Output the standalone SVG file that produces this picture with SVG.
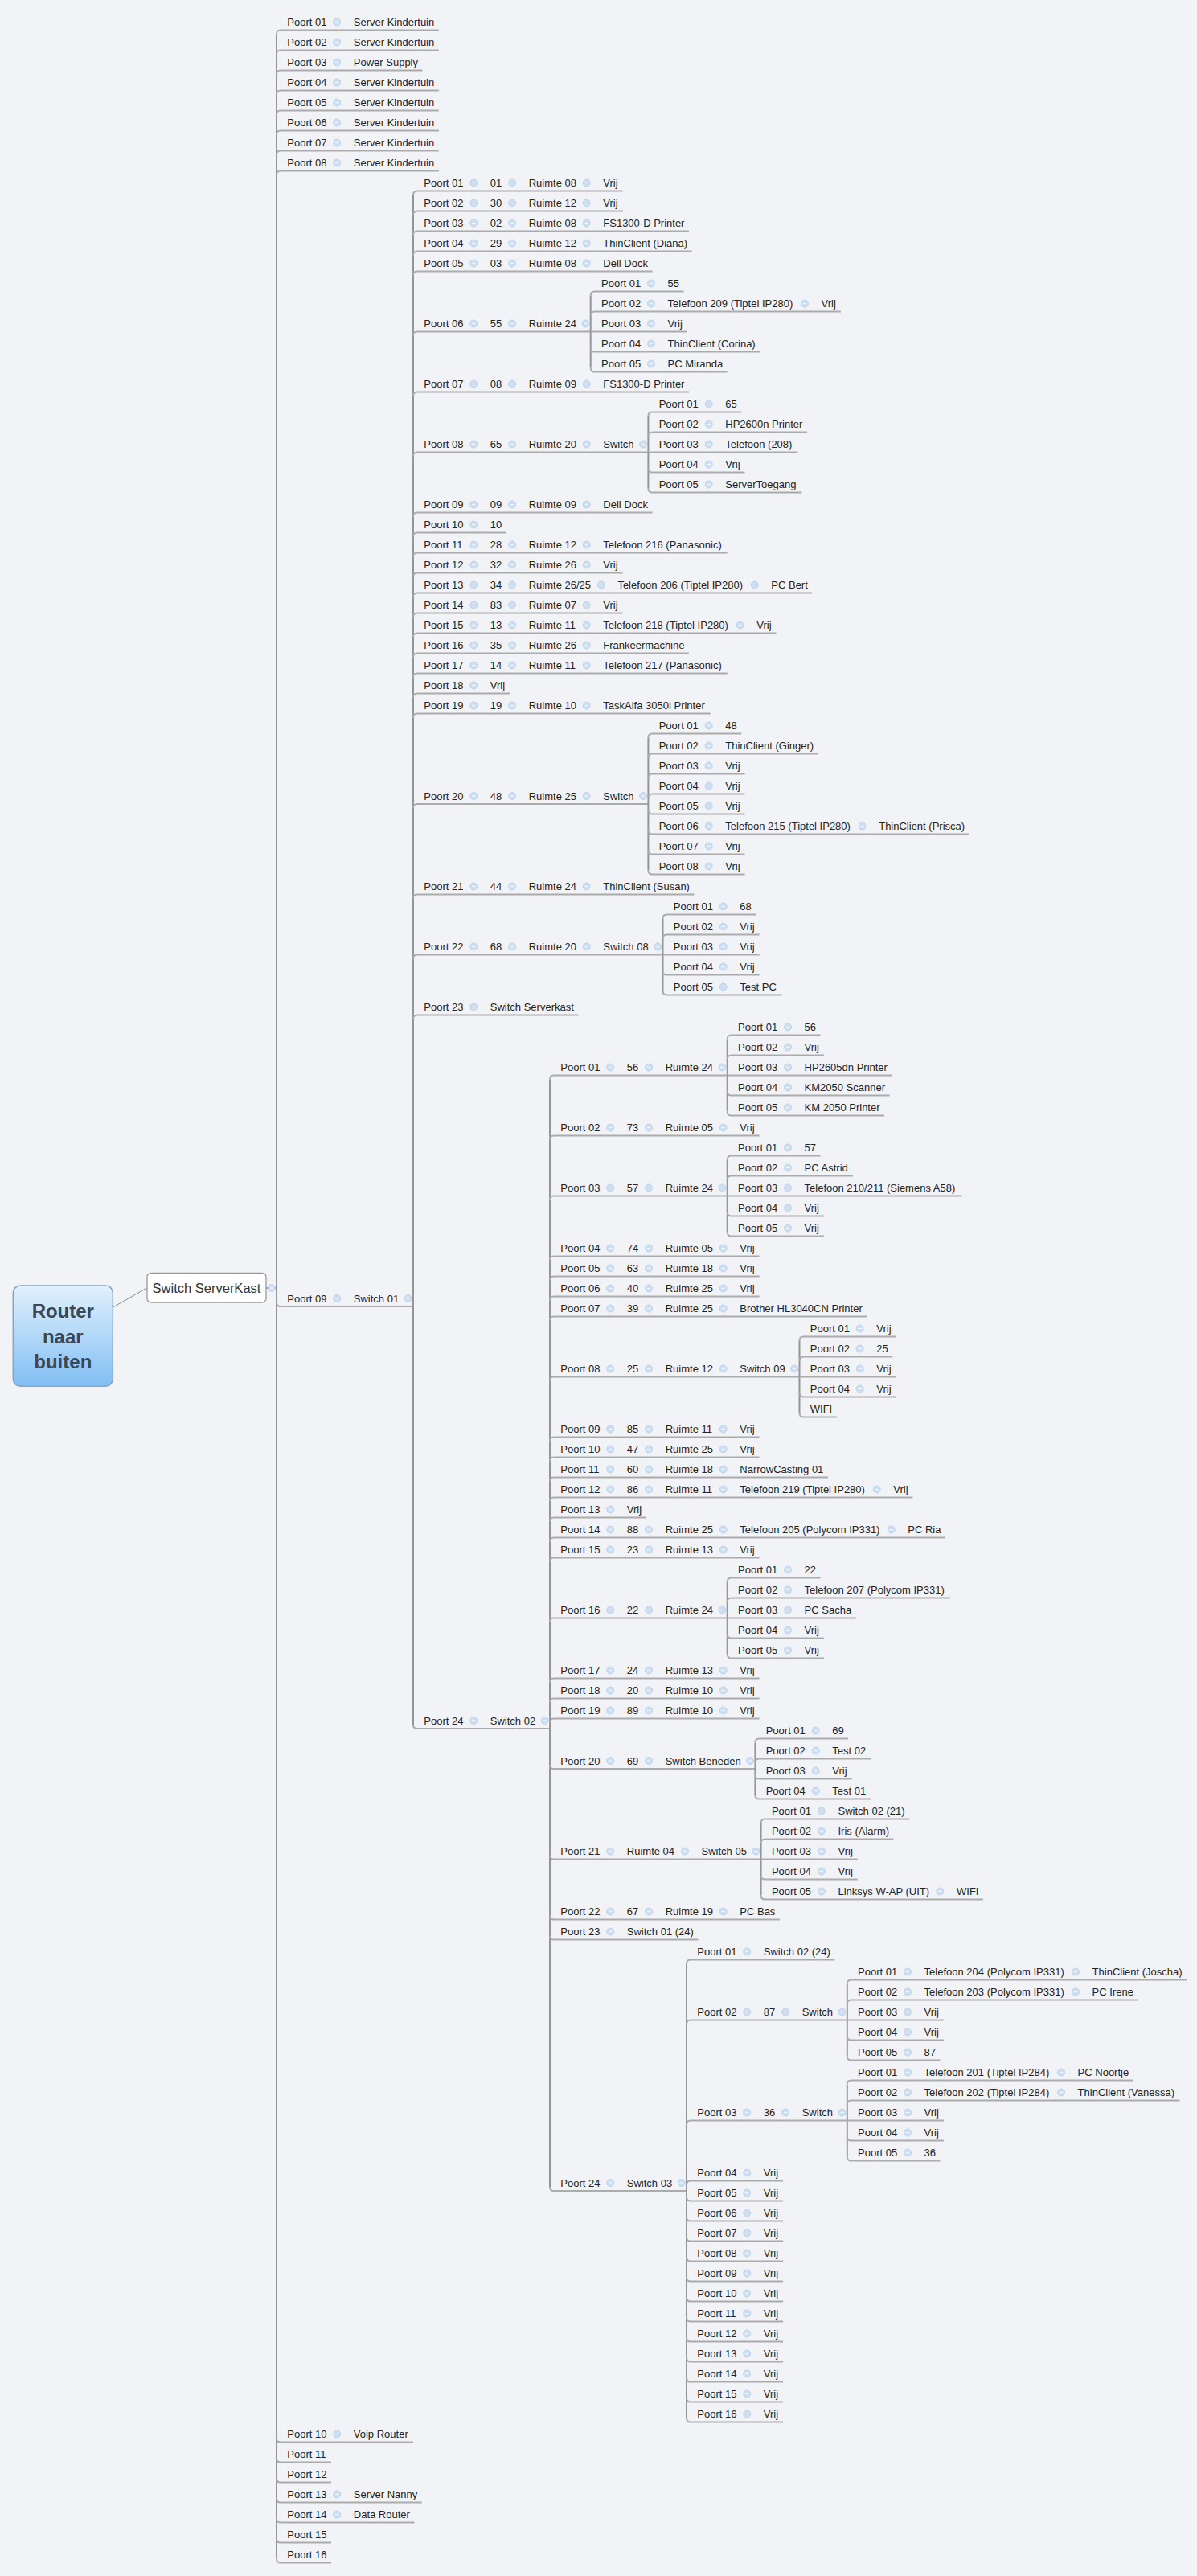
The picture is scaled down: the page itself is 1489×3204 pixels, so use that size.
<svg xmlns="http://www.w3.org/2000/svg" xmlns:xlink="http://www.w3.org/1999/xlink" width="1489" height="3204" viewBox="0 0 1489 3204">
<style>
text{font-family:"Liberation Sans",Arial,sans-serif;font-size:13px;fill:#222}
.u{fill:none;stroke:#ababab;stroke-width:2}
.v{fill:none;stroke:#959595;stroke-width:2}
.rt{font-weight:bold;font-size:24px;fill:#3c4753;text-anchor:middle}
.sk{font-size:16.5px;fill:#333;text-anchor:middle}
</style>
<defs>
<linearGradient id="g" x1="0" y1="0" x2="0" y2="1"><stop offset="0" stop-color="#e2f1fd"/><stop offset="1" stop-color="#80bef3"/></linearGradient>
<g id="c"><circle r="4.5" fill="#cddff3" stroke="#b6cde8" stroke-width="0.8"/><path d="M-2.2,0H2.2" stroke="#f4f8fc" stroke-width="1.1"/></g>
</defs>
<rect width="1489" height="3204" fill="#f2f3f7"/>
<g id="connectors">
<path d="M140.3,1626.2L183,1601.7" stroke="#8a8a8a" stroke-width="1" fill="none"/>
<path class="v" d="M331,1602H344"/>
<path class="v" d="M344,42.5V3182.5"/>
<path class="u" d="M344,42.5Q344,37.5 349,37.5H545.8"/>
<path class="u" d="M344,67.5Q344,62.5 349,62.5H545.8"/>
<path class="u" d="M344,92.5Q344,87.5 349,87.5H525.5"/>
<path class="u" d="M344,117.5Q344,112.5 349,112.5H545.8"/>
<path class="u" d="M344,142.5Q344,137.5 349,137.5H545.8"/>
<path class="u" d="M344,167.5Q344,162.5 349,162.5H545.8"/>
<path class="u" d="M344,192.5Q344,187.5 349,187.5H545.8"/>
<path class="u" d="M344,217.5Q344,212.5 349,212.5H545.8"/>
<path class="u" d="M344,1620Q344,1625 349,1625H514"/>
<path class="u" d="M344,3032.5Q344,3037.5 349,3037.5H514"/>
<path class="u" d="M344,3057.5Q344,3062.5 349,3062.5H412"/>
<path class="u" d="M344,3082.5Q344,3087.5 349,3087.5H412"/>
<path class="u" d="M344,3107.5Q344,3112.5 349,3112.5H524.8"/>
<path class="u" d="M344,3132.5Q344,3137.5 349,3137.5H515.4"/>
<path class="u" d="M344,3157.5Q344,3162.5 349,3162.5H412"/>
<path class="u" d="M344,3182.5Q344,3187.5 349,3187.5H412"/>
<path class="v" d="M514,242.5V2145"/>
<path class="u" d="M514,242.5Q514,237.5 519,237.5H774.6"/>
<path class="u" d="M514,267.5Q514,262.5 519,262.5H774.6"/>
<path class="u" d="M514,292.5Q514,287.5 519,287.5H857"/>
<path class="u" d="M514,317.5Q514,312.5 519,312.5H860.6"/>
<path class="u" d="M514,342.5Q514,337.5 519,337.5H811.5"/>
<path class="u" d="M514,417.5Q514,412.5 519,412.5H734.7"/>
<path class="u" d="M514,492.5Q514,487.5 519,487.5H857"/>
<path class="u" d="M514,567.5Q514,562.5 519,562.5H806.4"/>
<path class="u" d="M514,642.5Q514,637.5 519,637.5H811.5"/>
<path class="u" d="M514,667.5Q514,662.5 519,662.5H629.8"/>
<path class="u" d="M514,692.5Q514,687.5 519,687.5H904.7"/>
<path class="u" d="M514,717.5Q514,712.5 519,712.5H774.6"/>
<path class="u" d="M514,742.5Q514,737.5 519,737.5H1010.3"/>
<path class="u" d="M514,767.5Q514,762.5 519,762.5H774.6"/>
<path class="u" d="M514,792.5Q514,787.5 519,787.5H965.5"/>
<path class="u" d="M514,817.5Q514,812.5 519,812.5H857"/>
<path class="u" d="M514,842.5Q514,837.5 519,837.5H904.7"/>
<path class="u" d="M514,867.5Q514,862.5 519,862.5H634.1"/>
<path class="u" d="M514,892.5Q514,887.5 519,887.5H883.7"/>
<path class="u" d="M514,1005Q514,1000 519,1000H806.4"/>
<path class="u" d="M514,1117.5Q514,1112.5 519,1112.5H863.5"/>
<path class="u" d="M514,1192.5Q514,1187.5 519,1187.5H824.5"/>
<path class="u" d="M514,1267.5Q514,1262.5 519,1262.5H719.4"/>
<path class="u" d="M514,2145Q514,2150 519,2150H684"/>
<path class="v" d="M734.7,367.5V457.5"/>
<path class="u" d="M734.7,367.5Q734.7,362.5 739.7,362.5H850.5"/>
<path class="u" d="M734.7,392.5Q734.7,387.5 739.7,387.5H1045.8"/>
<path class="u" d="M734.7,412.5H854.9"/>
<path class="u" d="M734.7,432.5Q734.7,437.5 739.7,437.5H945.2"/>
<path class="u" d="M734.7,457.5Q734.7,462.5 739.7,462.5H904.7"/>
<path class="v" d="M806.4,517.5V607.5"/>
<path class="u" d="M806.4,517.5Q806.4,512.5 811.4,512.5H922.2"/>
<path class="u" d="M806.4,542.5Q806.4,537.5 811.4,537.5H1003.9"/>
<path class="u" d="M806.4,562.5H992.3"/>
<path class="u" d="M806.4,582.5Q806.4,587.5 811.4,587.5H926.5"/>
<path class="u" d="M806.4,607.5Q806.4,612.5 811.4,612.5H997.4"/>
<path class="v" d="M806.4,917.5V1082.5"/>
<path class="u" d="M806.4,917.5Q806.4,912.5 811.4,912.5H922.2"/>
<path class="u" d="M806.4,942.5Q806.4,937.5 811.4,937.5H1017.6"/>
<path class="u" d="M806.4,967.5Q806.4,962.5 811.4,962.5H926.5"/>
<path class="u" d="M806.4,992.5Q806.4,987.5 811.4,987.5H926.5"/>
<path class="u" d="M806.4,1007.5Q806.4,1012.5 811.4,1012.5H926.5"/>
<path class="u" d="M806.4,1032.5Q806.4,1037.5 811.4,1037.5H1205.6"/>
<path class="u" d="M806.4,1057.5Q806.4,1062.5 811.4,1062.5H926.5"/>
<path class="u" d="M806.4,1082.5Q806.4,1087.5 811.4,1087.5H926.5"/>
<path class="v" d="M824.5,1142.5V1232.5"/>
<path class="u" d="M824.5,1142.5Q824.5,1137.5 829.5,1137.5H940.3"/>
<path class="u" d="M824.5,1167.5Q824.5,1162.5 829.5,1162.5H944.6"/>
<path class="u" d="M824.5,1187.5H944.6"/>
<path class="u" d="M824.5,1207.5Q824.5,1212.5 829.5,1212.5H944.6"/>
<path class="u" d="M824.5,1232.5Q824.5,1237.5 829.5,1237.5H972.8"/>
<path class="v" d="M684,1342.5V2720"/>
<path class="u" d="M684,1342.5Q684,1337.5 689,1337.5H904.7"/>
<path class="u" d="M684,1417.5Q684,1412.5 689,1412.5H944.6"/>
<path class="u" d="M684,1492.5Q684,1487.5 689,1487.5H904.7"/>
<path class="u" d="M684,1567.5Q684,1562.5 689,1562.5H944.6"/>
<path class="u" d="M684,1592.5Q684,1587.5 689,1587.5H944.6"/>
<path class="u" d="M684,1617.5Q684,1612.5 689,1612.5H944.6"/>
<path class="u" d="M684,1642.5Q684,1637.5 689,1637.5H1078.3"/>
<path class="u" d="M684,1717.5Q684,1712.5 689,1712.5H994.5"/>
<path class="u" d="M684,1792.5Q684,1787.5 689,1787.5H944.6"/>
<path class="u" d="M684,1817.5Q684,1812.5 689,1812.5H944.6"/>
<path class="u" d="M684,1842.5Q684,1837.5 689,1837.5H1029.9"/>
<path class="u" d="M684,1867.5Q684,1862.5 689,1862.5H1135.5"/>
<path class="u" d="M684,1892.5Q684,1887.5 689,1887.5H804.1"/>
<path class="u" d="M684,1917.5Q684,1912.5 689,1912.5H1176"/>
<path class="u" d="M684,1942.5Q684,1937.5 689,1937.5H944.6"/>
<path class="u" d="M684,2017.5Q684,2012.5 689,2012.5H904.7"/>
<path class="u" d="M684,2092.5Q684,2087.5 689,2087.5H944.6"/>
<path class="u" d="M684,2117.5Q684,2112.5 689,2112.5H944.6"/>
<path class="u" d="M684,2142.5Q684,2137.5 689,2137.5H944.6"/>
<path class="u" d="M684,2195Q684,2200 689,2200H939.4"/>
<path class="u" d="M684,2307.5Q684,2312.5 689,2312.5H946.6"/>
<path class="u" d="M684,2382.5Q684,2387.5 689,2387.5H969.9"/>
<path class="u" d="M684,2407.5Q684,2412.5 689,2412.5H868.4"/>
<path class="u" d="M684,2720Q684,2725 689,2725H854"/>
<path class="v" d="M904.7,1292.5V1382.5"/>
<path class="u" d="M904.7,1292.5Q904.7,1287.5 909.7,1287.5H1020.5"/>
<path class="u" d="M904.7,1317.5Q904.7,1312.5 909.7,1312.5H1024.9"/>
<path class="u" d="M904.7,1337.5H1109.4"/>
<path class="u" d="M904.7,1357.5Q904.7,1362.5 909.7,1362.5H1106.5"/>
<path class="u" d="M904.7,1382.5Q904.7,1387.5 909.7,1387.5H1100"/>
<path class="v" d="M904.7,1442.5V1532.5"/>
<path class="u" d="M904.7,1442.5Q904.7,1437.5 909.7,1437.5H1020.5"/>
<path class="u" d="M904.7,1467.5Q904.7,1462.5 909.7,1462.5H1061"/>
<path class="u" d="M904.7,1487.5H1196.8"/>
<path class="u" d="M904.7,1507.5Q904.7,1512.5 909.7,1512.5H1024.9"/>
<path class="u" d="M904.7,1532.5Q904.7,1537.5 909.7,1537.5H1024.9"/>
<path class="v" d="M994.5,1667.5V1757.5"/>
<path class="u" d="M994.5,1667.5Q994.5,1662.5 999.5,1662.5H1114.6"/>
<path class="u" d="M994.5,1692.5Q994.5,1687.5 999.5,1687.5H1110.3"/>
<path class="u" d="M994.5,1712.5H1114.6"/>
<path class="u" d="M994.5,1732.5Q994.5,1737.5 999.5,1737.5H1114.6"/>
<path class="u" d="M994.5,1757.5Q994.5,1762.5 999.5,1762.5H1040.7"/>
<path class="v" d="M904.7,1967.5V2057.5"/>
<path class="u" d="M904.7,1967.5Q904.7,1962.5 909.7,1962.5H1020.5"/>
<path class="u" d="M904.7,1992.5Q904.7,1987.5 909.7,1987.5H1181.7"/>
<path class="u" d="M904.7,2012.5H1064.6"/>
<path class="u" d="M904.7,2032.5Q904.7,2037.5 909.7,2037.5H1024.9"/>
<path class="u" d="M904.7,2057.5Q904.7,2062.5 909.7,2062.5H1024.9"/>
<path class="v" d="M939.4,2167.5V2232.5"/>
<path class="u" d="M939.4,2167.5Q939.4,2162.5 944.4,2162.5H1055.2"/>
<path class="u" d="M939.4,2192.5Q939.4,2187.5 944.4,2187.5H1084.1"/>
<path class="u" d="M939.4,2207.5Q939.4,2212.5 944.4,2212.5H1059.6"/>
<path class="u" d="M939.4,2232.5Q939.4,2237.5 944.4,2237.5H1084.1"/>
<path class="v" d="M946.6,2267.5V2357.5"/>
<path class="u" d="M946.6,2267.5Q946.6,2262.5 951.6,2262.5H1131.1"/>
<path class="u" d="M946.6,2292.5Q946.6,2287.5 951.6,2287.5H1111.5"/>
<path class="u" d="M946.6,2312.5H1066.8"/>
<path class="u" d="M946.6,2332.5Q946.6,2337.5 951.6,2337.5H1066.8"/>
<path class="u" d="M946.6,2357.5Q946.6,2362.5 951.6,2362.5H1222.9"/>
<path class="v" d="M854,2442.5V3007.5"/>
<path class="u" d="M854,2442.5Q854,2437.5 859,2437.5H1038.4"/>
<path class="u" d="M854,2517.5Q854,2512.5 859,2512.5H1053.8"/>
<path class="u" d="M854,2642.5Q854,2637.5 859,2637.5H1053.8"/>
<path class="u" d="M854,2717.5Q854,2712.5 859,2712.5H974.1"/>
<path class="u" d="M854,2732.5Q854,2737.5 859,2737.5H974.1"/>
<path class="u" d="M854,2757.5Q854,2762.5 859,2762.5H974.1"/>
<path class="u" d="M854,2782.5Q854,2787.5 859,2787.5H974.1"/>
<path class="u" d="M854,2807.5Q854,2812.5 859,2812.5H974.1"/>
<path class="u" d="M854,2832.5Q854,2837.5 859,2837.5H974.1"/>
<path class="u" d="M854,2857.5Q854,2862.5 859,2862.5H974.1"/>
<path class="u" d="M854,2882.5Q854,2887.5 859,2887.5H974.1"/>
<path class="u" d="M854,2907.5Q854,2912.5 859,2912.5H974.1"/>
<path class="u" d="M854,2932.5Q854,2937.5 859,2937.5H974.1"/>
<path class="u" d="M854,2957.5Q854,2962.5 859,2962.5H974.1"/>
<path class="u" d="M854,2982.5Q854,2987.5 859,2987.5H974.1"/>
<path class="u" d="M854,3007.5Q854,3012.5 859,3012.5H974.1"/>
<path class="v" d="M1053.8,2467.5V2557.5"/>
<path class="u" d="M1053.8,2467.5Q1053.8,2462.5 1058.8,2462.5H1476.1"/>
<path class="u" d="M1053.8,2492.5Q1053.8,2487.5 1058.8,2487.5H1415.4"/>
<path class="u" d="M1053.8,2512.5H1173.9"/>
<path class="u" d="M1053.8,2532.5Q1053.8,2537.5 1058.8,2537.5H1173.9"/>
<path class="u" d="M1053.8,2557.5Q1053.8,2562.5 1058.8,2562.5H1169.6"/>
<path class="v" d="M1053.8,2592.5V2682.5"/>
<path class="u" d="M1053.8,2592.5Q1053.8,2587.5 1058.8,2587.5H1409.6"/>
<path class="u" d="M1053.8,2617.5Q1053.8,2612.5 1058.8,2612.5H1467.4"/>
<path class="u" d="M1053.8,2637.5H1173.9"/>
<path class="u" d="M1053.8,2657.5Q1053.8,2662.5 1058.8,2662.5H1173.9"/>
<path class="u" d="M1053.8,2682.5Q1053.8,2687.5 1058.8,2687.5H1169.6"/>
</g>
<g id="root"><rect x="16.3" y="1599" width="124" height="125.3" rx="9" fill="url(#g)" stroke="#8ba3bd" stroke-width="1.5"/><text class="rt" x="78.3" y="1639">Router</text><text class="rt" x="78.3" y="1670.5">naar</text><text class="rt" x="78.3" y="1702">buiten</text></g>
<g id="sk"><rect x="183" y="1583.3" width="148" height="36.7" rx="5" fill="#fff" stroke="#9a9a9a" stroke-width="1.3"/><text class="sk" x="257" y="1608">Switch ServerKast</text><use href="#c" x="337.7" y="1602"/></g>
<g id="r0a"><text x="357.3" y="32">Poort 01</text><use href="#c" x="419.2" y="27.5"/></g><g id="r0b"><text x="439.8" y="32">Server Kindertuin</text></g>
<g id="r1a"><text x="357.3" y="57">Poort 02</text><use href="#c" x="419.2" y="52.5"/></g><g id="r1b"><text x="439.8" y="57">Server Kindertuin</text></g>
<g id="r2a"><text x="357.3" y="82">Poort 03</text><use href="#c" x="419.2" y="77.5"/></g><g id="r2b"><text x="439.8" y="82">Power Supply</text></g>
<g id="r3a"><text x="357.3" y="107">Poort 04</text><use href="#c" x="419.2" y="102.5"/></g><g id="r3b"><text x="439.8" y="107">Server Kindertuin</text></g>
<g id="r4a"><text x="357.3" y="132">Poort 05</text><use href="#c" x="419.2" y="127.5"/></g><g id="r4b"><text x="439.8" y="132">Server Kindertuin</text></g>
<g id="r5a"><text x="357.3" y="157">Poort 06</text><use href="#c" x="419.2" y="152.5"/></g><g id="r5b"><text x="439.8" y="157">Server Kindertuin</text></g>
<g id="r6a"><text x="357.3" y="182">Poort 07</text><use href="#c" x="419.2" y="177.5"/></g><g id="r6b"><text x="439.8" y="182">Server Kindertuin</text></g>
<g id="r7a"><text x="357.3" y="207">Poort 08</text><use href="#c" x="419.2" y="202.5"/></g><g id="r7b"><text x="439.8" y="207">Server Kindertuin</text></g>
<g id="p09"><text x="357.3" y="1619.5">Poort 09</text><use href="#c" x="419.2" y="1615"/></g><g id="sw01"><text x="439.8" y="1619.5">Switch 01</text><use href="#c" x="507.7" y="1615"/></g>
<g id="r120a"><text x="357.3" y="3032">Poort 10</text><use href="#c" x="419.2" y="3027.5"/></g><g id="r120b"><text x="439.8" y="3032">Voip Router</text></g>
<g id="r121a"><text x="357.3" y="3057">Poort 11</text></g>
<g id="r122a"><text x="357.3" y="3082">Poort 12</text></g>
<g id="r123a"><text x="357.3" y="3107">Poort 13</text><use href="#c" x="419.2" y="3102.5"/></g><g id="r123b"><text x="439.8" y="3107">Server Nanny</text></g>
<g id="r124a"><text x="357.3" y="3132">Poort 14</text><use href="#c" x="419.2" y="3127.5"/></g><g id="r124b"><text x="439.8" y="3132">Data Router</text></g>
<g id="r125a"><text x="357.3" y="3157">Poort 15</text></g>
<g id="r126a"><text x="357.3" y="3182">Poort 16</text></g>
<g id="r8a"><text x="527.3" y="232">Poort 01</text><use href="#c" x="589.2" y="227.5"/></g><g id="r8b"><text x="609.8" y="232">01</text><use href="#c" x="637.1" y="227.5"/></g><g id="r8c"><text x="657.7" y="232">Ruimte 08</text><use href="#c" x="729.7" y="227.5"/></g><g id="r8d"><text x="750.3" y="232">Vrij</text></g>
<g id="r9a"><text x="527.3" y="257">Poort 02</text><use href="#c" x="589.2" y="252.5"/></g><g id="r9b"><text x="609.8" y="257">30</text><use href="#c" x="637.1" y="252.5"/></g><g id="r9c"><text x="657.7" y="257">Ruimte 12</text><use href="#c" x="729.7" y="252.5"/></g><g id="r9d"><text x="750.3" y="257">Vrij</text></g>
<g id="r10a"><text x="527.3" y="282">Poort 03</text><use href="#c" x="589.2" y="277.5"/></g><g id="r10b"><text x="609.8" y="282">02</text><use href="#c" x="637.1" y="277.5"/></g><g id="r10c"><text x="657.7" y="282">Ruimte 08</text><use href="#c" x="729.7" y="277.5"/></g><g id="r10d"><text x="750.3" y="282">FS1300-D Printer</text></g>
<g id="r11a"><text x="527.3" y="307">Poort 04</text><use href="#c" x="589.2" y="302.5"/></g><g id="r11b"><text x="609.8" y="307">29</text><use href="#c" x="637.1" y="302.5"/></g><g id="r11c"><text x="657.7" y="307">Ruimte 12</text><use href="#c" x="729.7" y="302.5"/></g><g id="r11d"><text x="750.3" y="307">ThinClient (Diana)</text></g>
<g id="r12a"><text x="527.3" y="332">Poort 05</text><use href="#c" x="589.2" y="327.5"/></g><g id="r12b"><text x="609.8" y="332">03</text><use href="#c" x="637.1" y="327.5"/></g><g id="r12c"><text x="657.7" y="332">Ruimte 08</text><use href="#c" x="729.7" y="327.5"/></g><g id="r12d"><text x="750.3" y="332">Dell Dock</text></g>
<g id="r15a"><text x="527.3" y="407">Poort 06</text><use href="#c" x="589.2" y="402.5"/></g><g id="r15b"><text x="609.8" y="407">55</text><use href="#c" x="637.1" y="402.5"/></g><g id="r15c"><text x="657.7" y="407">Ruimte 24</text><use href="#c" x="728.4" y="402.5"/></g>
<g id="r13x"><text x="748" y="357">Poort 01</text><use href="#c" x="810" y="352.5"/></g><g id="r13y"><text x="830.6" y="357">55</text></g>
<g id="r14x"><text x="748" y="382">Poort 02</text><use href="#c" x="810" y="377.5"/></g><g id="r14y"><text x="830.6" y="382">Telefoon 209 (Tiptel IP280)</text><use href="#c" x="1000.9" y="377.5"/></g><g id="r14z"><text x="1021.5" y="382">Vrij</text></g>
<g id="r15x"><text x="748" y="407">Poort 03</text><use href="#c" x="810" y="402.5"/></g><g id="r15y"><text x="830.6" y="407">Vrij</text></g>
<g id="r16x"><text x="748" y="432">Poort 04</text><use href="#c" x="810" y="427.5"/></g><g id="r16y"><text x="830.6" y="432">ThinClient (Corina)</text></g>
<g id="r17x"><text x="748" y="457">Poort 05</text><use href="#c" x="810" y="452.5"/></g><g id="r17y"><text x="830.6" y="457">PC Miranda</text></g>
<g id="r18a"><text x="527.3" y="482">Poort 07</text><use href="#c" x="589.2" y="477.5"/></g><g id="r18b"><text x="609.8" y="482">08</text><use href="#c" x="637.1" y="477.5"/></g><g id="r18c"><text x="657.7" y="482">Ruimte 09</text><use href="#c" x="729.7" y="477.5"/></g><g id="r18d"><text x="750.3" y="482">FS1300-D Printer</text></g>
<g id="r21a"><text x="527.3" y="557">Poort 08</text><use href="#c" x="589.2" y="552.5"/></g><g id="r21b"><text x="609.8" y="557">65</text><use href="#c" x="637.1" y="552.5"/></g><g id="r21c"><text x="657.7" y="557">Ruimte 20</text><use href="#c" x="729.7" y="552.5"/></g><g id="r21d"><text x="750.3" y="557">Switch</text><use href="#c" x="800.1" y="552.5"/></g>
<g id="r19x"><text x="819.7" y="507">Poort 01</text><use href="#c" x="881.7" y="502.5"/></g><g id="r19y"><text x="902.3" y="507">65</text></g>
<g id="r20x"><text x="819.7" y="532">Poort 02</text><use href="#c" x="881.7" y="527.5"/></g><g id="r20y"><text x="902.3" y="532">HP2600n Printer</text></g>
<g id="r21x"><text x="819.7" y="557">Poort 03</text><use href="#c" x="881.7" y="552.5"/></g><g id="r21y"><text x="902.3" y="557">Telefoon (208)</text></g>
<g id="r22x"><text x="819.7" y="582">Poort 04</text><use href="#c" x="881.7" y="577.5"/></g><g id="r22y"><text x="902.3" y="582">Vrij</text></g>
<g id="r23x"><text x="819.7" y="607">Poort 05</text><use href="#c" x="881.7" y="602.5"/></g><g id="r23y"><text x="902.3" y="607">ServerToegang</text></g>
<g id="r24a"><text x="527.3" y="632">Poort 09</text><use href="#c" x="589.2" y="627.5"/></g><g id="r24b"><text x="609.8" y="632">09</text><use href="#c" x="637.1" y="627.5"/></g><g id="r24c"><text x="657.7" y="632">Ruimte 09</text><use href="#c" x="729.7" y="627.5"/></g><g id="r24d"><text x="750.3" y="632">Dell Dock</text></g>
<g id="r25a"><text x="527.3" y="657">Poort 10</text><use href="#c" x="589.2" y="652.5"/></g><g id="r25b"><text x="609.8" y="657">10</text></g>
<g id="r26a"><text x="527.3" y="682">Poort 11</text><use href="#c" x="589.2" y="677.5"/></g><g id="r26b"><text x="609.8" y="682">28</text><use href="#c" x="637.1" y="677.5"/></g><g id="r26c"><text x="657.7" y="682">Ruimte 12</text><use href="#c" x="729.7" y="677.5"/></g><g id="r26d"><text x="750.3" y="682">Telefoon 216 (Panasonic)</text></g>
<g id="r27a"><text x="527.3" y="707">Poort 12</text><use href="#c" x="589.2" y="702.5"/></g><g id="r27b"><text x="609.8" y="707">32</text><use href="#c" x="637.1" y="702.5"/></g><g id="r27c"><text x="657.7" y="707">Ruimte 26</text><use href="#c" x="729.7" y="702.5"/></g><g id="r27d"><text x="750.3" y="707">Vrij</text></g>
<g id="r28a"><text x="527.3" y="732">Poort 13</text><use href="#c" x="589.2" y="727.5"/></g><g id="r28b"><text x="609.8" y="732">34</text><use href="#c" x="637.1" y="727.5"/></g><g id="r28c"><text x="657.7" y="732">Ruimte 26/25</text><use href="#c" x="747.8" y="727.5"/></g><g id="r28d"><text x="768.4" y="732">Telefoon 206 (Tiptel IP280)</text><use href="#c" x="938.7" y="727.5"/></g><g id="r28e"><text x="959.3" y="732">PC Bert</text></g>
<g id="r29a"><text x="527.3" y="757">Poort 14</text><use href="#c" x="589.2" y="752.5"/></g><g id="r29b"><text x="609.8" y="757">83</text><use href="#c" x="637.1" y="752.5"/></g><g id="r29c"><text x="657.7" y="757">Ruimte 07</text><use href="#c" x="729.7" y="752.5"/></g><g id="r29d"><text x="750.3" y="757">Vrij</text></g>
<g id="r30a"><text x="527.3" y="782">Poort 15</text><use href="#c" x="589.2" y="777.5"/></g><g id="r30b"><text x="609.8" y="782">13</text><use href="#c" x="637.1" y="777.5"/></g><g id="r30c"><text x="657.7" y="782">Ruimte 11</text><use href="#c" x="729.7" y="777.5"/></g><g id="r30d"><text x="750.3" y="782">Telefoon 218 (Tiptel IP280)</text><use href="#c" x="920.7" y="777.5"/></g><g id="r30e"><text x="941.3" y="782">Vrij</text></g>
<g id="r31a"><text x="527.3" y="807">Poort 16</text><use href="#c" x="589.2" y="802.5"/></g><g id="r31b"><text x="609.8" y="807">35</text><use href="#c" x="637.1" y="802.5"/></g><g id="r31c"><text x="657.7" y="807">Ruimte 26</text><use href="#c" x="729.7" y="802.5"/></g><g id="r31d"><text x="750.3" y="807">Frankeermachine</text></g>
<g id="r32a"><text x="527.3" y="832">Poort 17</text><use href="#c" x="589.2" y="827.5"/></g><g id="r32b"><text x="609.8" y="832">14</text><use href="#c" x="637.1" y="827.5"/></g><g id="r32c"><text x="657.7" y="832">Ruimte 11</text><use href="#c" x="729.7" y="827.5"/></g><g id="r32d"><text x="750.3" y="832">Telefoon 217 (Panasonic)</text></g>
<g id="r33a"><text x="527.3" y="857">Poort 18</text><use href="#c" x="589.2" y="852.5"/></g><g id="r33b"><text x="609.8" y="857">Vrij</text></g>
<g id="r34a"><text x="527.3" y="882">Poort 19</text><use href="#c" x="589.2" y="877.5"/></g><g id="r34b"><text x="609.8" y="882">19</text><use href="#c" x="637.1" y="877.5"/></g><g id="r34c"><text x="657.7" y="882">Ruimte 10</text><use href="#c" x="729.7" y="877.5"/></g><g id="r34d"><text x="750.3" y="882">TaskAlfa 3050i Printer</text></g>
<g id="r38a"><text x="527.3" y="994.5">Poort 20</text><use href="#c" x="589.2" y="990"/></g><g id="r38b"><text x="609.8" y="994.5">48</text><use href="#c" x="637.1" y="990"/></g><g id="r38c"><text x="657.7" y="994.5">Ruimte 25</text><use href="#c" x="729.7" y="990"/></g><g id="r38d"><text x="750.3" y="994.5">Switch</text><use href="#c" x="800.1" y="990"/></g>
<g id="r35x"><text x="819.7" y="907">Poort 01</text><use href="#c" x="881.7" y="902.5"/></g><g id="r35y"><text x="902.3" y="907">48</text></g>
<g id="r36x"><text x="819.7" y="932">Poort 02</text><use href="#c" x="881.7" y="927.5"/></g><g id="r36y"><text x="902.3" y="932">ThinClient (Ginger)</text></g>
<g id="r37x"><text x="819.7" y="957">Poort 03</text><use href="#c" x="881.7" y="952.5"/></g><g id="r37y"><text x="902.3" y="957">Vrij</text></g>
<g id="r38x"><text x="819.7" y="982">Poort 04</text><use href="#c" x="881.7" y="977.5"/></g><g id="r38y"><text x="902.3" y="982">Vrij</text></g>
<g id="r39x"><text x="819.7" y="1007">Poort 05</text><use href="#c" x="881.7" y="1002.5"/></g><g id="r39y"><text x="902.3" y="1007">Vrij</text></g>
<g id="r40x"><text x="819.7" y="1032">Poort 06</text><use href="#c" x="881.7" y="1027.5"/></g><g id="r40y"><text x="902.3" y="1032">Telefoon 215 (Tiptel IP280)</text><use href="#c" x="1072.6" y="1027.5"/></g><g id="r40z"><text x="1093.2" y="1032">ThinClient (Prisca)</text></g>
<g id="r41x"><text x="819.7" y="1057">Poort 07</text><use href="#c" x="881.7" y="1052.5"/></g><g id="r41y"><text x="902.3" y="1057">Vrij</text></g>
<g id="r42x"><text x="819.7" y="1082">Poort 08</text><use href="#c" x="881.7" y="1077.5"/></g><g id="r42y"><text x="902.3" y="1082">Vrij</text></g>
<g id="r43a"><text x="527.3" y="1107">Poort 21</text><use href="#c" x="589.2" y="1102.5"/></g><g id="r43b"><text x="609.8" y="1107">44</text><use href="#c" x="637.1" y="1102.5"/></g><g id="r43c"><text x="657.7" y="1107">Ruimte 24</text><use href="#c" x="729.7" y="1102.5"/></g><g id="r43d"><text x="750.3" y="1107">ThinClient (Susan)</text></g>
<g id="r46a"><text x="527.3" y="1182">Poort 22</text><use href="#c" x="589.2" y="1177.5"/></g><g id="r46b"><text x="609.8" y="1182">68</text><use href="#c" x="637.1" y="1177.5"/></g><g id="r46c"><text x="657.7" y="1182">Ruimte 20</text><use href="#c" x="729.7" y="1177.5"/></g><g id="r46d"><text x="750.3" y="1182">Switch 08</text><use href="#c" x="818.2" y="1177.5"/></g>
<g id="r44x"><text x="837.8" y="1132">Poort 01</text><use href="#c" x="899.7" y="1127.5"/></g><g id="r44y"><text x="920.3" y="1132">68</text></g>
<g id="r45x"><text x="837.8" y="1157">Poort 02</text><use href="#c" x="899.7" y="1152.5"/></g><g id="r45y"><text x="920.3" y="1157">Vrij</text></g>
<g id="r46x"><text x="837.8" y="1182">Poort 03</text><use href="#c" x="899.7" y="1177.5"/></g><g id="r46y"><text x="920.3" y="1182">Vrij</text></g>
<g id="r47x"><text x="837.8" y="1207">Poort 04</text><use href="#c" x="899.7" y="1202.5"/></g><g id="r47y"><text x="920.3" y="1207">Vrij</text></g>
<g id="r48x"><text x="837.8" y="1232">Poort 05</text><use href="#c" x="899.7" y="1227.5"/></g><g id="r48y"><text x="920.3" y="1232">Test PC</text></g>
<g id="r49a"><text x="527.3" y="1257">Poort 23</text><use href="#c" x="589.2" y="1252.5"/></g><g id="r49b"><text x="609.8" y="1257">Switch Serverkast</text></g>
<g id="r84a"><text x="527.3" y="2144.5">Poort 24</text><use href="#c" x="589.2" y="2140"/></g><g id="sw02"><text x="609.8" y="2144.5">Switch 02</text><use href="#c" x="677.7" y="2140"/></g>
<g id="s52a"><text x="697.3" y="1332">Poort 01</text><use href="#c" x="759.2" y="1327.5"/></g><g id="s52b"><text x="779.8" y="1332">56</text><use href="#c" x="807.1" y="1327.5"/></g><g id="s52c"><text x="827.7" y="1332">Ruimte 24</text><use href="#c" x="898.4" y="1327.5"/></g>
<g id="s50x"><text x="918" y="1282">Poort 01</text><use href="#c" x="980" y="1277.5"/></g><g id="s50y"><text x="1000.6" y="1282">56</text></g>
<g id="s51x"><text x="918" y="1307">Poort 02</text><use href="#c" x="980" y="1302.5"/></g><g id="s51y"><text x="1000.6" y="1307">Vrij</text></g>
<g id="s52x"><text x="918" y="1332">Poort 03</text><use href="#c" x="980" y="1327.5"/></g><g id="s52y"><text x="1000.6" y="1332">HP2605dn Printer</text></g>
<g id="s53x"><text x="918" y="1357">Poort 04</text><use href="#c" x="980" y="1352.5"/></g><g id="s53y"><text x="1000.6" y="1357">KM2050 Scanner</text></g>
<g id="s54x"><text x="918" y="1382">Poort 05</text><use href="#c" x="980" y="1377.5"/></g><g id="s54y"><text x="1000.6" y="1382">KM 2050 Printer</text></g>
<g id="s55a"><text x="697.3" y="1407">Poort 02</text><use href="#c" x="759.2" y="1402.5"/></g><g id="s55b"><text x="779.8" y="1407">73</text><use href="#c" x="807.1" y="1402.5"/></g><g id="s55c"><text x="827.7" y="1407">Ruimte 05</text><use href="#c" x="899.7" y="1402.5"/></g><g id="s55d"><text x="920.3" y="1407">Vrij</text></g>
<g id="s58a"><text x="697.3" y="1482">Poort 03</text><use href="#c" x="759.2" y="1477.5"/></g><g id="s58b"><text x="779.8" y="1482">57</text><use href="#c" x="807.1" y="1477.5"/></g><g id="s58c"><text x="827.7" y="1482">Ruimte 24</text><use href="#c" x="898.4" y="1477.5"/></g>
<g id="s56x"><text x="918" y="1432">Poort 01</text><use href="#c" x="980" y="1427.5"/></g><g id="s56y"><text x="1000.6" y="1432">57</text></g>
<g id="s57x"><text x="918" y="1457">Poort 02</text><use href="#c" x="980" y="1452.5"/></g><g id="s57y"><text x="1000.6" y="1457">PC Astrid</text></g>
<g id="s58x"><text x="918" y="1482">Poort 03</text><use href="#c" x="980" y="1477.5"/></g><g id="s58y"><text x="1000.6" y="1482">Telefoon 210/211 (Siemens A58)</text></g>
<g id="s59x"><text x="918" y="1507">Poort 04</text><use href="#c" x="980" y="1502.5"/></g><g id="s59y"><text x="1000.6" y="1507">Vrij</text></g>
<g id="s60x"><text x="918" y="1532">Poort 05</text><use href="#c" x="980" y="1527.5"/></g><g id="s60y"><text x="1000.6" y="1532">Vrij</text></g>
<g id="s61a"><text x="697.3" y="1557">Poort 04</text><use href="#c" x="759.2" y="1552.5"/></g><g id="s61b"><text x="779.8" y="1557">74</text><use href="#c" x="807.1" y="1552.5"/></g><g id="s61c"><text x="827.7" y="1557">Ruimte 05</text><use href="#c" x="899.7" y="1552.5"/></g><g id="s61d"><text x="920.3" y="1557">Vrij</text></g>
<g id="s62a"><text x="697.3" y="1582">Poort 05</text><use href="#c" x="759.2" y="1577.5"/></g><g id="s62b"><text x="779.8" y="1582">63</text><use href="#c" x="807.1" y="1577.5"/></g><g id="s62c"><text x="827.7" y="1582">Ruimte 18</text><use href="#c" x="899.7" y="1577.5"/></g><g id="s62d"><text x="920.3" y="1582">Vrij</text></g>
<g id="s63a"><text x="697.3" y="1607">Poort 06</text><use href="#c" x="759.2" y="1602.5"/></g><g id="s63b"><text x="779.8" y="1607">40</text><use href="#c" x="807.1" y="1602.5"/></g><g id="s63c"><text x="827.7" y="1607">Ruimte 25</text><use href="#c" x="899.7" y="1602.5"/></g><g id="s63d"><text x="920.3" y="1607">Vrij</text></g>
<g id="s64a"><text x="697.3" y="1632">Poort 07</text><use href="#c" x="759.2" y="1627.5"/></g><g id="s64b"><text x="779.8" y="1632">39</text><use href="#c" x="807.1" y="1627.5"/></g><g id="s64c"><text x="827.7" y="1632">Ruimte 25</text><use href="#c" x="899.7" y="1627.5"/></g><g id="s64d"><text x="920.3" y="1632">Brother HL3040CN Printer</text></g>
<g id="s67a"><text x="697.3" y="1707">Poort 08</text><use href="#c" x="759.2" y="1702.5"/></g><g id="s67b"><text x="779.8" y="1707">25</text><use href="#c" x="807.1" y="1702.5"/></g><g id="s67c"><text x="827.7" y="1707">Ruimte 12</text><use href="#c" x="899.7" y="1702.5"/></g><g id="s67d"><text x="920.3" y="1707">Switch 09</text><use href="#c" x="988.2" y="1702.5"/></g>
<g id="s65x"><text x="1007.8" y="1657">Poort 01</text><use href="#c" x="1069.7" y="1652.5"/></g><g id="s65y"><text x="1090.3" y="1657">Vrij</text></g>
<g id="s66x"><text x="1007.8" y="1682">Poort 02</text><use href="#c" x="1069.7" y="1677.5"/></g><g id="s66y"><text x="1090.3" y="1682">25</text></g>
<g id="s67x"><text x="1007.8" y="1707">Poort 03</text><use href="#c" x="1069.7" y="1702.5"/></g><g id="s67y"><text x="1090.3" y="1707">Vrij</text></g>
<g id="s68x"><text x="1007.8" y="1732">Poort 04</text><use href="#c" x="1069.7" y="1727.5"/></g><g id="s68y"><text x="1090.3" y="1732">Vrij</text></g>
<g id="s69x"><text x="1007.8" y="1757">WIFI</text></g>
<g id="s70a"><text x="697.3" y="1782">Poort 09</text><use href="#c" x="759.2" y="1777.5"/></g><g id="s70b"><text x="779.8" y="1782">85</text><use href="#c" x="807.1" y="1777.5"/></g><g id="s70c"><text x="827.7" y="1782">Ruimte 11</text><use href="#c" x="899.7" y="1777.5"/></g><g id="s70d"><text x="920.3" y="1782">Vrij</text></g>
<g id="s71a"><text x="697.3" y="1807">Poort 10</text><use href="#c" x="759.2" y="1802.5"/></g><g id="s71b"><text x="779.8" y="1807">47</text><use href="#c" x="807.1" y="1802.5"/></g><g id="s71c"><text x="827.7" y="1807">Ruimte 25</text><use href="#c" x="899.7" y="1802.5"/></g><g id="s71d"><text x="920.3" y="1807">Vrij</text></g>
<g id="s72a"><text x="697.3" y="1832">Poort 11</text><use href="#c" x="759.2" y="1827.5"/></g><g id="s72b"><text x="779.8" y="1832">60</text><use href="#c" x="807.1" y="1827.5"/></g><g id="s72c"><text x="827.7" y="1832">Ruimte 18</text><use href="#c" x="899.7" y="1827.5"/></g><g id="s72d"><text x="920.3" y="1832">NarrowCasting 01</text></g>
<g id="s73a"><text x="697.3" y="1857">Poort 12</text><use href="#c" x="759.2" y="1852.5"/></g><g id="s73b"><text x="779.8" y="1857">86</text><use href="#c" x="807.1" y="1852.5"/></g><g id="s73c"><text x="827.7" y="1857">Ruimte 11</text><use href="#c" x="899.7" y="1852.5"/></g><g id="s73d"><text x="920.3" y="1857">Telefoon 219 (Tiptel IP280)</text><use href="#c" x="1090.7" y="1852.5"/></g><g id="s73e"><text x="1111.3" y="1857">Vrij</text></g>
<g id="s74a"><text x="697.3" y="1882">Poort 13</text><use href="#c" x="759.2" y="1877.5"/></g><g id="s74b"><text x="779.8" y="1882">Vrij</text></g>
<g id="s75a"><text x="697.3" y="1907">Poort 14</text><use href="#c" x="759.2" y="1902.5"/></g><g id="s75b"><text x="779.8" y="1907">88</text><use href="#c" x="807.1" y="1902.5"/></g><g id="s75c"><text x="827.7" y="1907">Ruimte 25</text><use href="#c" x="899.7" y="1902.5"/></g><g id="s75d"><text x="920.3" y="1907">Telefoon 205 (Polycom IP331)</text><use href="#c" x="1108.7" y="1902.5"/></g><g id="s75e"><text x="1129.3" y="1907">PC Ria</text></g>
<g id="s76a"><text x="697.3" y="1932">Poort 15</text><use href="#c" x="759.2" y="1927.5"/></g><g id="s76b"><text x="779.8" y="1932">23</text><use href="#c" x="807.1" y="1927.5"/></g><g id="s76c"><text x="827.7" y="1932">Ruimte 13</text><use href="#c" x="899.7" y="1927.5"/></g><g id="s76d"><text x="920.3" y="1932">Vrij</text></g>
<g id="s79a"><text x="697.3" y="2007">Poort 16</text><use href="#c" x="759.2" y="2002.5"/></g><g id="s79b"><text x="779.8" y="2007">22</text><use href="#c" x="807.1" y="2002.5"/></g><g id="s79c"><text x="827.7" y="2007">Ruimte 24</text><use href="#c" x="898.4" y="2002.5"/></g>
<g id="s77x"><text x="918" y="1957">Poort 01</text><use href="#c" x="980" y="1952.5"/></g><g id="s77y"><text x="1000.6" y="1957">22</text></g>
<g id="s78x"><text x="918" y="1982">Poort 02</text><use href="#c" x="980" y="1977.5"/></g><g id="s78y"><text x="1000.6" y="1982">Telefoon 207 (Polycom IP331)</text></g>
<g id="s79x"><text x="918" y="2007">Poort 03</text><use href="#c" x="980" y="2002.5"/></g><g id="s79y"><text x="1000.6" y="2007">PC Sacha</text></g>
<g id="s80x"><text x="918" y="2032">Poort 04</text><use href="#c" x="980" y="2027.5"/></g><g id="s80y"><text x="1000.6" y="2032">Vrij</text></g>
<g id="s81x"><text x="918" y="2057">Poort 05</text><use href="#c" x="980" y="2052.5"/></g><g id="s81y"><text x="1000.6" y="2057">Vrij</text></g>
<g id="s82a"><text x="697.3" y="2082">Poort 17</text><use href="#c" x="759.2" y="2077.5"/></g><g id="s82b"><text x="779.8" y="2082">24</text><use href="#c" x="807.1" y="2077.5"/></g><g id="s82c"><text x="827.7" y="2082">Ruimte 13</text><use href="#c" x="899.7" y="2077.5"/></g><g id="s82d"><text x="920.3" y="2082">Vrij</text></g>
<g id="s83a"><text x="697.3" y="2107">Poort 18</text><use href="#c" x="759.2" y="2102.5"/></g><g id="s83b"><text x="779.8" y="2107">20</text><use href="#c" x="807.1" y="2102.5"/></g><g id="s83c"><text x="827.7" y="2107">Ruimte 10</text><use href="#c" x="899.7" y="2102.5"/></g><g id="s83d"><text x="920.3" y="2107">Vrij</text></g>
<g id="s84a"><text x="697.3" y="2132">Poort 19</text><use href="#c" x="759.2" y="2127.5"/></g><g id="s84b"><text x="779.8" y="2132">89</text><use href="#c" x="807.1" y="2127.5"/></g><g id="s84c"><text x="827.7" y="2132">Ruimte 10</text><use href="#c" x="899.7" y="2127.5"/></g><g id="s84d"><text x="920.3" y="2132">Vrij</text></g>
<g id="s86a"><text x="697.3" y="2194.5">Poort 20</text><use href="#c" x="759.2" y="2190"/></g><g id="s86b"><text x="779.8" y="2194.5">69</text><use href="#c" x="807.1" y="2190"/></g><g id="s86c"><text x="827.7" y="2194.5">Switch Beneden</text><use href="#c" x="933.1" y="2190"/></g>
<g id="s85x"><text x="952.7" y="2157">Poort 01</text><use href="#c" x="1014.7" y="2152.5"/></g><g id="s85y"><text x="1035.3" y="2157">69</text></g>
<g id="s86x"><text x="952.7" y="2182">Poort 02</text><use href="#c" x="1014.7" y="2177.5"/></g><g id="s86y"><text x="1035.3" y="2182">Test 02</text></g>
<g id="s87x"><text x="952.7" y="2207">Poort 03</text><use href="#c" x="1014.7" y="2202.5"/></g><g id="s87y"><text x="1035.3" y="2207">Vrij</text></g>
<g id="s88x"><text x="952.7" y="2232">Poort 04</text><use href="#c" x="1014.7" y="2227.5"/></g><g id="s88y"><text x="1035.3" y="2232">Test 01</text></g>
<g id="s91a"><text x="697.3" y="2307">Poort 21</text><use href="#c" x="759.2" y="2302.5"/></g><g id="s91b"><text x="779.8" y="2307">Ruimte 04</text><use href="#c" x="851.9" y="2302.5"/></g><g id="s91c"><text x="872.5" y="2307">Switch 05</text><use href="#c" x="940.3" y="2302.5"/></g>
<g id="s89x"><text x="959.9" y="2257">Poort 01</text><use href="#c" x="1021.9" y="2252.5"/></g><g id="s89y"><text x="1042.5" y="2257">Switch 02 (21)</text></g>
<g id="s90x"><text x="959.9" y="2282">Poort 02</text><use href="#c" x="1021.9" y="2277.5"/></g><g id="s90y"><text x="1042.5" y="2282">Iris (Alarm)</text></g>
<g id="s91x"><text x="959.9" y="2307">Poort 03</text><use href="#c" x="1021.9" y="2302.5"/></g><g id="s91y"><text x="1042.5" y="2307">Vrij</text></g>
<g id="s92x"><text x="959.9" y="2332">Poort 04</text><use href="#c" x="1021.9" y="2327.5"/></g><g id="s92y"><text x="1042.5" y="2332">Vrij</text></g>
<g id="s93x"><text x="959.9" y="2357">Poort 05</text><use href="#c" x="1021.9" y="2352.5"/></g><g id="s93y"><text x="1042.5" y="2357">Linksys W-AP (UIT)</text><use href="#c" x="1169.4" y="2352.5"/></g><g id="s93z"><text x="1190" y="2357">WIFI</text></g>
<g id="s94a"><text x="697.3" y="2382">Poort 22</text><use href="#c" x="759.2" y="2377.5"/></g><g id="s94b"><text x="779.8" y="2382">67</text><use href="#c" x="807.1" y="2377.5"/></g><g id="s94c"><text x="827.7" y="2382">Ruimte 19</text><use href="#c" x="899.7" y="2377.5"/></g><g id="s94d"><text x="920.3" y="2382">PC Bas</text></g>
<g id="s95a"><text x="697.3" y="2407">Poort 23</text><use href="#c" x="759.2" y="2402.5"/></g><g id="s95b"><text x="779.8" y="2407">Switch 01 (24)</text></g>
<g id="s107a"><text x="697.3" y="2719.5">Poort 24</text><use href="#c" x="759.2" y="2715"/></g><g id="sw03"><text x="779.8" y="2719.5">Switch 03</text><use href="#c" x="847.7" y="2715"/></g>
<g id="t96a"><text x="867.3" y="2432">Poort 01</text><use href="#c" x="929.2" y="2427.5"/></g><g id="t96b"><text x="949.8" y="2432">Switch 02 (24)</text></g>
<g id="t99a"><text x="867.3" y="2507">Poort 02</text><use href="#c" x="929.2" y="2502.5"/></g><g id="t99b"><text x="949.8" y="2507">87</text><use href="#c" x="977.1" y="2502.5"/></g><g id="t99c"><text x="997.7" y="2507">Switch</text><use href="#c" x="1047.5" y="2502.5"/></g>
<g id="t97x"><text x="1067.1" y="2457">Poort 01</text><use href="#c" x="1129" y="2452.5"/></g><g id="t97y"><text x="1149.6" y="2457">Telefoon 204 (Polycom IP331)</text><use href="#c" x="1338" y="2452.5"/></g><g id="t97z"><text x="1358.6" y="2457">ThinClient (Joscha)</text></g>
<g id="t98x"><text x="1067.1" y="2482">Poort 02</text><use href="#c" x="1129" y="2477.5"/></g><g id="t98y"><text x="1149.6" y="2482">Telefoon 203 (Polycom IP331)</text><use href="#c" x="1338" y="2477.5"/></g><g id="t98z"><text x="1358.6" y="2482">PC Irene</text></g>
<g id="t99x"><text x="1067.1" y="2507">Poort 03</text><use href="#c" x="1129" y="2502.5"/></g><g id="t99y"><text x="1149.6" y="2507">Vrij</text></g>
<g id="t100x"><text x="1067.1" y="2532">Poort 04</text><use href="#c" x="1129" y="2527.5"/></g><g id="t100y"><text x="1149.6" y="2532">Vrij</text></g>
<g id="t101x"><text x="1067.1" y="2557">Poort 05</text><use href="#c" x="1129" y="2552.5"/></g><g id="t101y"><text x="1149.6" y="2557">87</text></g>
<g id="t104a"><text x="867.3" y="2632">Poort 03</text><use href="#c" x="929.2" y="2627.5"/></g><g id="t104b"><text x="949.8" y="2632">36</text><use href="#c" x="977.1" y="2627.5"/></g><g id="t104c"><text x="997.7" y="2632">Switch</text><use href="#c" x="1047.5" y="2627.5"/></g>
<g id="t102x"><text x="1067.1" y="2582">Poort 01</text><use href="#c" x="1129" y="2577.5"/></g><g id="t102y"><text x="1149.6" y="2582">Telefoon 201 (Tiptel IP284)</text><use href="#c" x="1320" y="2577.5"/></g><g id="t102z"><text x="1340.6" y="2582">PC Noortje</text></g>
<g id="t103x"><text x="1067.1" y="2607">Poort 02</text><use href="#c" x="1129" y="2602.5"/></g><g id="t103y"><text x="1149.6" y="2607">Telefoon 202 (Tiptel IP284)</text><use href="#c" x="1320" y="2602.5"/></g><g id="t103z"><text x="1340.6" y="2607">ThinClient (Vanessa)</text></g>
<g id="t104x"><text x="1067.1" y="2632">Poort 03</text><use href="#c" x="1129" y="2627.5"/></g><g id="t104y"><text x="1149.6" y="2632">Vrij</text></g>
<g id="t105x"><text x="1067.1" y="2657">Poort 04</text><use href="#c" x="1129" y="2652.5"/></g><g id="t105y"><text x="1149.6" y="2657">Vrij</text></g>
<g id="t106x"><text x="1067.1" y="2682">Poort 05</text><use href="#c" x="1129" y="2677.5"/></g><g id="t106y"><text x="1149.6" y="2682">36</text></g>
<g id="t107a"><text x="867.3" y="2707">Poort 04</text><use href="#c" x="929.2" y="2702.5"/></g><g id="t107b"><text x="949.8" y="2707">Vrij</text></g>
<g id="t108a"><text x="867.3" y="2732">Poort 05</text><use href="#c" x="929.2" y="2727.5"/></g><g id="t108b"><text x="949.8" y="2732">Vrij</text></g>
<g id="t109a"><text x="867.3" y="2757">Poort 06</text><use href="#c" x="929.2" y="2752.5"/></g><g id="t109b"><text x="949.8" y="2757">Vrij</text></g>
<g id="t110a"><text x="867.3" y="2782">Poort 07</text><use href="#c" x="929.2" y="2777.5"/></g><g id="t110b"><text x="949.8" y="2782">Vrij</text></g>
<g id="t111a"><text x="867.3" y="2807">Poort 08</text><use href="#c" x="929.2" y="2802.5"/></g><g id="t111b"><text x="949.8" y="2807">Vrij</text></g>
<g id="t112a"><text x="867.3" y="2832">Poort 09</text><use href="#c" x="929.2" y="2827.5"/></g><g id="t112b"><text x="949.8" y="2832">Vrij</text></g>
<g id="t113a"><text x="867.3" y="2857">Poort 10</text><use href="#c" x="929.2" y="2852.5"/></g><g id="t113b"><text x="949.8" y="2857">Vrij</text></g>
<g id="t114a"><text x="867.3" y="2882">Poort 11</text><use href="#c" x="929.2" y="2877.5"/></g><g id="t114b"><text x="949.8" y="2882">Vrij</text></g>
<g id="t115a"><text x="867.3" y="2907">Poort 12</text><use href="#c" x="929.2" y="2902.5"/></g><g id="t115b"><text x="949.8" y="2907">Vrij</text></g>
<g id="t116a"><text x="867.3" y="2932">Poort 13</text><use href="#c" x="929.2" y="2927.5"/></g><g id="t116b"><text x="949.8" y="2932">Vrij</text></g>
<g id="t117a"><text x="867.3" y="2957">Poort 14</text><use href="#c" x="929.2" y="2952.5"/></g><g id="t117b"><text x="949.8" y="2957">Vrij</text></g>
<g id="t118a"><text x="867.3" y="2982">Poort 15</text><use href="#c" x="929.2" y="2977.5"/></g><g id="t118b"><text x="949.8" y="2982">Vrij</text></g>
<g id="t119a"><text x="867.3" y="3007">Poort 16</text><use href="#c" x="929.2" y="3002.5"/></g><g id="t119b"><text x="949.8" y="3007">Vrij</text></g>
</svg>
